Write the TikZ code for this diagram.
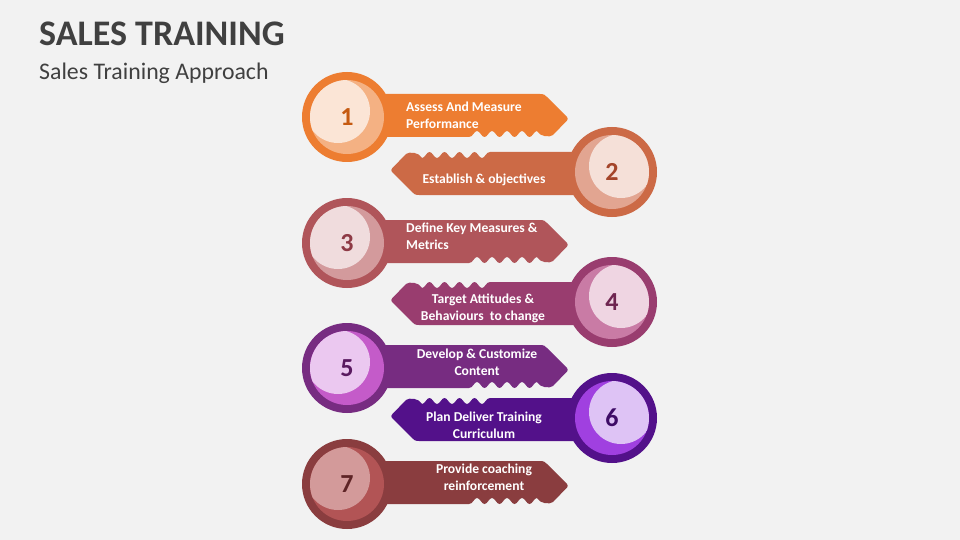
\documentclass[tikz,border=0pt]{standalone}
\usepackage{fontspec}
\setmainfont{Carlito}

\definecolor{pagebg}{HTML}{F2F2F2}
\definecolor{headgray}{HTML}{404040}
\definecolor{oneBase}{HTML}{ED7D31}
\definecolor{oneMid}{HTML}{F4B183}
\definecolor{oneLight}{HTML}{FBE5D6}
\definecolor{oneNum}{HTML}{C55A11}
\definecolor{twoBase}{HTML}{CC6A46}
\definecolor{twoMid}{HTML}{E2A591}
\definecolor{twoLight}{HTML}{F5E0D8}
\definecolor{twoNum}{HTML}{A4452A}
\definecolor{threeBase}{HTML}{B0555A}
\definecolor{threeMid}{HTML}{D39A9C}
\definecolor{threeLight}{HTML}{F0DCDD}
\definecolor{threeNum}{HTML}{8E3A45}
\definecolor{fourBase}{HTML}{993D6F}
\definecolor{fourMid}{HTML}{C97BA5}
\definecolor{fourLight}{HTML}{EFD5E2}
\definecolor{fourNum}{HTML}{6E2550}
\definecolor{fiveBase}{HTML}{772C81}
\definecolor{fiveMid}{HTML}{C45BC9}
\definecolor{fiveLight}{HTML}{EBC8F0}
\definecolor{fiveNum}{HTML}{5A1A60}
\definecolor{sixBase}{HTML}{53118A}
\definecolor{sixMid}{HTML}{A040E0}
\definecolor{sixLight}{HTML}{DEC3F5}
\definecolor{sixNum}{HTML}{3E0B66}
\definecolor{sevenBase}{HTML}{8A3D3F}
\definecolor{sevenMid}{HTML}{B25455}
\definecolor{sevenLight}{HTML}{D39A9A}
\definecolor{sevenNum}{HTML}{5E2426}

\begin{document}
\begin{tikzpicture}[x=1pt, y=-1pt,
    every node/.append style={inner sep=0pt},
    pics/key/.style n args={6}{code={
      \begin{scope}[xscale=#6, yscale=#6]
        \fill[#1] (0,-23) -- (193,-23) .. controls (197,-23) and (198,-22) .. (200,-20)
          -- (220,0) .. controls (221,1.5) and (221,2.5) .. (220,3.5)
          -- (206,18) .. controls (203,20.5) and (193,20) .. (190,14)
          \foreach \x in {190,175,160,145} { .. controls (\x-3,14) and (\x-4.5,20) .. (\x-7.5,20)
            .. controls (\x-10.5,20) and (\x-12,14) .. (\x-15,14) }
          .. controls (127,14) and (126,20) .. (122,20)
          -- (0,20) -- cycle;
      \end{scope}
      \begin{scope}[xscale=#6]
        \fill[#1] (0,0) circle (45);
        \fill[#2] (0,0) circle (37);
        \begin{scope}
          \clip (0,0) circle (37);
          \fill[#3] (-9,-6) circle (32);
        \end{scope}
      \end{scope}
      \node[digit, text=#4] (num) at (0,0) {#5};
    }}]
    \tikzstyle{heading} = [font=\bfseries\fontsize{36}{40}\selectfont, text=headgray, anchor=base west]
    \tikzstyle{subheading} = [font=\fontsize{23.8}{26}\selectfont, text=headgray, anchor=base west]
    \tikzstyle{digit} = [font=\bfseries\fontsize{26}{28}\selectfont]
    \tikzstyle{steptext} = [font=\bfseries\fontsize{13.6}{17}\selectfont, text=white]

    \fill[pagebg] (0,0) rectangle (960,540);
    \useasboundingbox (0,0) rectangle (960,540);

    \node[heading] (title) at (39,46) {SALES TRAINING};
    \node[subheading] (subtitle) at (39,80) {Sales Training Approach};

    \pic (key1) at (347,117) {key={oneBase}{oneMid}{oneLight}{oneNum}{1}{1}};
    \pic (key2) at (612,172) {key={twoBase}{twoMid}{twoLight}{twoNum}{2}{-1}};
    \pic (key3) at (347,243) {key={threeBase}{threeMid}{threeLight}{threeNum}{3}{1}};
    \pic (key4) at (612,302) {key={fourBase}{fourMid}{fourLight}{fourNum}{4}{-1}};
    \pic (key5) at (347,368) {key={fiveBase}{fiveMid}{fiveLight}{fiveNum}{5}{1}};
    \pic (key6) at (612,418) {key={sixBase}{sixMid}{sixLight}{sixNum}{6}{-1}};
    \pic (key7) at (347,484) {key={sevenBase}{sevenMid}{sevenLight}{sevenNum}{7}{1}};

    \node[steptext, anchor=west, align=left] (step1) at (406,115) {Assess And Measure\\Performance};
    \node[steptext] (step2) at (484,180) {Establish \& objectives};
    \node[steptext, anchor=west, align=left] (step3) at (406,236) {Define Key Measures \&\\Metrics};
    \node[steptext, align=center] (step4) at (483,308) {Target Attitudes \&\\Behaviours\ \ to change};
    \node[steptext, align=center] (step5) at (477,362) {Develop \& Customize\\Content};
    \node[steptext, align=center] (step6) at (484,425) {Plan Deliver Training\\Curriculum};
    \node[steptext, align=center] (step7) at (484,477) {Provide coaching\\reinforcement};
\end{tikzpicture}
\end{document}
